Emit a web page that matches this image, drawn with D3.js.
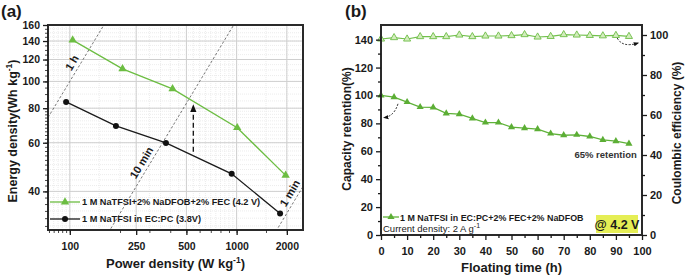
<!DOCTYPE html>
<html>
<head>
<meta charset="utf-8">
<script src="https://cdn.jsdelivr.net/npm/d3@7"></script>
<style>
body { margin: 0; background: #fff; }
text { font-family: "Liberation Sans", Arial, sans-serif; font-weight: bold; fill: #1a1a1a; }
.axis path, .axis line { stroke: #1a1a1a; stroke-width: 1.3px; }
.axis text { font-size: 11px; font-family: "Liberation Sans", Arial, sans-serif; font-weight: bold; }
</style>
</head>
<body>
<svg width="685" height="276"></svg>
<script>
// ---- panel (a) data : Ragone plot ----
var powerNew = [104, 207, 413, 1008, 1967];
var energyNew = [141, 111, 94, 68, 45.7];
var powerOld = [95, 189, 377, 934, 1822];
var energyOld = [84.3, 69, 59.9, 46.3, 33.3];
var legendA = ["1 M NaTFSI+2% NaDFOB+2% FEC (4.2 V)", "1 M NaTFSI in EC:PC (3.8V)"];
var timeLabels = ["1 h", "10 min", "1 min"];
var timeHours = [1, 1 / 6, 1 / 60];
var timeLabelPower = [113, 295, 2287];
var powerTicks = [100, 250, 500, 1000, 2000];
var energyTicks = [40, 60, 80, 100, 120, 140, 160];

// ---- panel (b) data : floating test ----
var floatTime = [0, 5, 10, 15, 20, 25, 30, 35, 40, 45, 50, 55, 60, 65, 70, 75, 80, 85, 90, 95];
var retention = [100, 98.8, 95.3, 91.7, 91.4, 87.2, 86.6, 83.5, 80.6, 80.6, 77.3, 76.6, 75.9, 72.7, 71.5, 71.8, 70.6, 68.2, 67.3, 65.5];
var efficiency = [98, 98.7, 98, 99.2, 99.2, 99.2, 100, 99.2, 99.5, 99.5, 99.7, 100.2, 99, 99.3, 100.2, 100, 99.8, 99.6, 99.8, 99.3];
var timeTicks = [0, 10, 20, 30, 40, 50, 60, 70, 80, 90, 100];
var retentionTicks = [0, 20, 40, 60, 80, 100, 120, 140];
var efficiencyTicks = [0, 20, 40, 60, 80, 100];

var green = "#6cbd42";
var svg = d3.select("svg");

var defs = svg.append("defs");
defs.append("marker")
	.attr("id", "head")
	.attr("viewBox", "0 -5 10 10")
	.attr("refX", 8)
	.attr("markerWidth", 6)
	.attr("markerHeight", 6)
	.attr("orient", "auto")
	.append("path")
	.attr("d", "M0,-4L10,0L0,4Z")
	.style("fill", "#111");

// ================= panel (a) =================
var a = { left: 48, right: 303, top: 25, bottom: 230 };
var xA = d3.scaleLog().domain([74, 2500]).range([a.left, a.right]);
var yA = d3.scaleLog().domain([29, 160]).range([a.bottom, a.top]);

defs.append("clipPath").attr("id", "clipA")
	.append("rect")
	.attr("x", a.left).attr("y", a.top)
	.attr("width", a.right - a.left).attr("height", a.bottom - a.top);

// minor grid
var xMinor = [];
[10, 100, 1000].forEach(function (d) {
	for (var m = 1; m < 10; m += 0.5) {
		var v = d * m;
		if (v > 74 && v < 2500) xMinor.push(v);
	}
});
var yMinor = [];
for (var v = 30; v < 160; v += (v < 80 ? 2 : 5)) yMinor.push(v);

var gridA = svg.append("g");
gridA.selectAll(".vmin").data(xMinor).enter().append("line")
	.attr("x1", xA).attr("x2", xA).attr("y1", a.top).attr("y2", a.bottom)
	.style("stroke", "#e4e4e4").style("stroke-width", 0.7).style("stroke-dasharray", "1,1");
gridA.selectAll(".hmin").data(yMinor).enter().append("line")
	.attr("y1", yA).attr("y2", yA).attr("x1", a.left).attr("x2", a.right)
	.style("stroke", "#e4e4e4").style("stroke-width", 0.7).style("stroke-dasharray", "1,1");
gridA.selectAll(".vmaj").data(powerTicks).enter().append("line")
	.attr("x1", xA).attr("x2", xA).attr("y1", a.top).attr("y2", a.bottom)
	.style("stroke", "#cfcfcf").style("stroke-width", 1);
gridA.selectAll(".hmaj").data(energyTicks).enter().append("line")
	.attr("y1", yA).attr("y2", yA).attr("x1", a.left).attr("x2", a.right)
	.style("stroke", "#cfcfcf").style("stroke-width", 1);

// constant time lines
var tl = svg.append("g").attr("clip-path", "url(#clipA)");
timeHours.forEach(function (h) {
	tl.append("line")
		.attr("x1", xA(74)).attr("y1", yA(74 * h))
		.attr("x2", xA(2500)).attr("y2", yA(2500 * h))
		.style("stroke", "#555").style("stroke-width", 0.8)
		.style("stroke-dasharray", "2.5,2");
});
var ang = Math.atan2(yA(1000) - yA(100), xA(1000) - xA(100)) * 180 / Math.PI;
timeLabels.forEach(function (t, i) {
	var p = timeLabelPower[i];
	svg.append("text")
		.attr("transform", "translate(" + xA(p) + "," + yA(p * timeHours[i]) + ") rotate(" + ang + ")")
		.attr("y", -4)
		.attr("text-anchor", "middle")
		.style("font-size", "11px")
		.text(t);
});

// arrow
svg.append("line")
	.attr("x1", xA(550)).attr("x2", xA(550))
	.attr("y1", yA(55.7)).attr("y2", yA(81.6))
	.style("stroke", "#111").style("stroke-width", 1.3)
	.style("stroke-dasharray", "5,3")
	.attr("marker-end", "url(#head)");

// series
var lineA = d3.line().x(function (d) { return xA(d[0]); }).y(function (d) { return yA(d[1]); });
var newPts = d3.zip(powerNew, energyNew);
var oldPts = d3.zip(powerOld, energyOld);
svg.append("path").attr("d", lineA(newPts)).style("fill", "none").style("stroke", green).style("stroke-width", 1.3);
svg.append("path").attr("d", lineA(oldPts)).style("fill", "none").style("stroke", "#1a1a1a").style("stroke-width", 1.3);
var tri = d3.symbol().type(d3.symbolTriangle).size(30);
svg.selectAll(".tA").data(newPts).enter().append("path")
	.attr("d", tri)
	.attr("transform", function (d) { return "translate(" + xA(d[0]) + "," + yA(d[1]) + ")"; })
	.style("fill", green);
svg.selectAll(".cA").data(oldPts).enter().append("circle")
	.attr("cx", function (d) { return xA(d[0]); })
	.attr("cy", function (d) { return yA(d[1]); })
	.attr("r", 3)
	.style("fill", "#111");

// legend (a)
var legY = [202, 219];
var legColors = [green, "#1a1a1a"];
legendA.forEach(function (t, i) {
	svg.append("line").attr("x1", 50).attr("x2", 80).attr("y1", legY[i]).attr("y2", legY[i])
		.style("stroke", legColors[i]).style("stroke-width", 1.3);
	if (i == 0)
		svg.append("path").attr("d", tri).attr("transform", "translate(65," + legY[i] + ")").style("fill", green);
	else
		svg.append("circle").attr("cx", 65).attr("cy", legY[i]).attr("r", 3).style("fill", "#111");
	svg.append("text").attr("x", 82).attr("y", legY[i] + 3.3).style("font-size", "9.2px").text(t);
});

// frame + axes (a)
svg.append("rect")
	.attr("x", a.left).attr("y", a.top)
	.attr("width", a.right - a.left).attr("height", a.bottom - a.top)
	.style("fill", "none").style("stroke", "#2a2a2a").style("stroke-width", 2);

svg.append("g").attr("class", "axis")
	.attr("transform", "translate(" + a.left + ",0)")
	.call(d3.axisLeft(yA).tickValues(energyTicks).tickFormat(d3.format("d")).tickSize(5).tickSizeOuter(0))
	.call(function (g) { g.select(".domain").remove(); g.selectAll("text").style("font-size", "10.5px"); });
svg.append("g").attr("class", "axis")
	.attr("transform", "translate(" + a.left + ",0)")
	.call(d3.axisLeft(yA).tickValues(yMinor).tickFormat("").tickSize(3).tickSizeOuter(0))
	.call(function (g) { g.select(".domain").remove(); g.selectAll("line").style("stroke-width", 0.8); });
svg.append("g").attr("class", "axis")
	.attr("transform", "translate(0," + a.bottom + ")")
	.call(d3.axisBottom(xA).tickValues(powerTicks).tickFormat(d3.format("d")).tickSize(5).tickSizeOuter(0))
	.call(function (g) { g.select(".domain").remove(); g.selectAll("text").attr("dy", "1.1em").style("font-size", "10.5px"); });
svg.append("g").attr("class", "axis")
	.attr("transform", "translate(0," + a.bottom + ")")
	.call(d3.axisBottom(xA).tickValues(xMinor.filter(function (d) { return d % 100 == 0 || d < 100; })).tickFormat("").tickSize(3).tickSizeOuter(0))
	.call(function (g) { g.select(".domain").remove(); g.selectAll("line").style("stroke-width", 0.8); });

var tA = svg.append("text").attr("x", (a.left + a.right) / 2).attr("y", 268)
	.attr("text-anchor", "middle").style("font-size", "13px");
tA.append("tspan").text("Power density (W kg");
tA.append("tspan").attr("dy", -5).style("font-size", "8.5px").text("-1");
tA.append("tspan").attr("dy", 5).text(")");

var yTa = svg.append("text")
	.attr("transform", "translate(17,131) rotate(-90)")
	.attr("text-anchor", "middle").style("font-size", "12.5px");
yTa.append("tspan").text("Energy density(Wh kg");
yTa.append("tspan").attr("dy", -5).style("font-size", "8.5px").text("-1");
yTa.append("tspan").attr("dy", 5).text(")");

svg.append("text").attr("x", 1).attr("y", 17).style("font-size", "17px").text("(a)");

// ================= panel (b) =================
var b = { left: 381, right: 642, top: 25, bottom: 235 };
var xB = d3.scaleLinear().domain([0, 100]).range([b.left, b.right]);
var yB = d3.scaleLinear().domain([0, 150.5]).range([b.bottom, b.top]);
var yB2 = d3.scaleLinear().domain([0, 105]).range([b.bottom, b.top]);

var lineRet = d3.line().x(function (d) { return xB(d[0]); }).y(function (d) { return yB(d[1]); });
var lineCE = d3.line().x(function (d) { return xB(d[0]); }).y(function (d) { return yB2(d[1]); });
var retPts = d3.zip(floatTime, retention);
var cePts = d3.zip(floatTime, efficiency);

svg.append("path").attr("d", lineCE(cePts)).style("fill", "none").style("stroke", "#72c04c").style("stroke-width", 1.2);
svg.selectAll(".ce").data(cePts).enter().append("path")
	.attr("d", d3.symbol().type(d3.symbolTriangle).size(22))
	.attr("transform", function (d) { return "translate(" + xB(d[0]) + "," + yB2(d[1]) + ")"; })
	.style("fill", "#d3ecbd").style("stroke", "#6dbd46").style("stroke-width", 0.9);

svg.append("path").attr("d", lineRet(retPts)).style("fill", "none").style("stroke", "#5fb239").style("stroke-width", 1.3);
svg.selectAll(".ret").data(retPts).enter().append("path")
	.attr("d", d3.symbol().type(d3.symbolTriangle).size(22))
	.attr("transform", function (d) { return "translate(" + xB(d[0]) + "," + yB(d[1]) + ")"; })
	.style("fill", "#5cae35");

// curved arrows
svg.append("path")
	.attr("d", "M" + xB(6.5) + "," + yB(94) + " Q" + xB(5) + "," + yB(85) + " " + xB(1.2) + "," + yB(84.2))
	.style("fill", "none").style("stroke", "#111").style("stroke-width", 0.9)
	.style("stroke-dasharray", "2,1.5").attr("marker-end", "url(#head)");
svg.append("path")
	.attr("d", "M" + xB(90.5) + "," + yB2(98.5) + " Q" + xB(92.5) + "," + yB2(93.5) + " " + xB(98.5) + "," + yB2(96))
	.style("fill", "none").style("stroke", "#111").style("stroke-width", 0.9)
	.style("stroke-dasharray", "2,1.5").attr("marker-end", "url(#head)");

svg.append("text").attr("x", xB(98)).attr("y", yB(55.5))
	.attr("text-anchor", "end").style("font-size", "9.5px").style("fill", "#333")
	.text("65% retention");

// legend (b)
svg.append("line").attr("x1", 383).attr("x2", 399).attr("y1", 217).attr("y2", 217)
	.style("stroke", "#5fb239").style("stroke-width", 1.3);
svg.append("path").attr("d", d3.symbol().type(d3.symbolTriangle).size(22))
	.attr("transform", "translate(391,217)").style("fill", "#5cae35");
svg.append("text").attr("x", 400).attr("y", 220.5).style("font-size", "8.9px")
	.text("1 M NaTFSI in EC:PC+2% FEC+2% NaDFOB");
var cd = svg.append("text").attr("x", 383).attr("y", 232).style("font-size", "9.5px").style("font-weight", "normal");
cd.append("tspan").text("Current density: 2 A g");
cd.append("tspan").attr("dy", -4).style("font-size", "7px").text("-1");

svg.append("rect").attr("x", 596).attr("y", 215).attr("width", 42).attr("height", 18)
	.style("fill", "#e5ee55");
svg.append("text").attr("x", 617).attr("y", 229).attr("text-anchor", "middle")
	.style("font-size", "12.5px").text("@ 4.2 V");

// frame + axes (b)
svg.append("rect")
	.attr("x", b.left).attr("y", b.top)
	.attr("width", b.right - b.left).attr("height", b.bottom - b.top)
	.style("fill", "none").style("stroke", "#2a2a2a").style("stroke-width", 2);

svg.append("g").attr("class", "axis").attr("transform", "translate(" + b.left + ",0)")
	.call(d3.axisLeft(yB).tickValues(retentionTicks).tickSize(5).tickSizeOuter(0))
	.call(function (g) { g.select(".domain").remove(); });
svg.append("g").attr("class", "axis").attr("transform", "translate(" + b.left + ",0)")
	.call(d3.axisLeft(yB).tickValues(d3.range(10, 150, 20)).tickFormat("").tickSize(3).tickSizeOuter(0))
	.call(function (g) { g.select(".domain").remove(); });
svg.append("g").attr("class", "axis").attr("transform", "translate(" + b.right + ",0)")
	.call(d3.axisRight(yB2).tickValues(efficiencyTicks).tickSize(5).tickSizeOuter(0))
	.call(function (g) { g.select(".domain").remove(); });
svg.append("g").attr("class", "axis").attr("transform", "translate(" + b.right + ",0)")
	.call(d3.axisRight(yB2).tickValues(d3.range(10, 105, 20)).tickFormat("").tickSize(3).tickSizeOuter(0))
	.call(function (g) { g.select(".domain").remove(); });
svg.append("g").attr("class", "axis").attr("transform", "translate(0," + b.bottom + ")")
	.call(d3.axisBottom(xB).tickValues(timeTicks).tickSize(5).tickSizeOuter(0))
	.call(function (g) { g.select(".domain").remove(); g.selectAll("text").attr("dy", "1.05em"); });
svg.append("g").attr("class", "axis").attr("transform", "translate(0," + b.bottom + ")")
	.call(d3.axisBottom(xB).tickValues(d3.range(5, 100, 10)).tickFormat("").tickSize(3).tickSizeOuter(0))
	.call(function (g) { g.select(".domain").remove(); });

svg.append("text").attr("x", (b.left + b.right) / 2).attr("y", 272)
	.attr("text-anchor", "middle").style("font-size", "13px").text("Floating time (h)");
svg.append("text")
	.attr("transform", "translate(351,129) rotate(-90)")
	.attr("text-anchor", "middle").style("font-size", "12px").text("Capacity retention(%)");
svg.append("text")
	.attr("transform", "translate(681,133) rotate(-90)")
	.attr("text-anchor", "middle").style("font-size", "12px").text("Coulombic efficiency (%)");

svg.append("text").attr("x", 345).attr("y", 17).style("font-size", "17px").text("(b)");
</script>
</body>
</html>
